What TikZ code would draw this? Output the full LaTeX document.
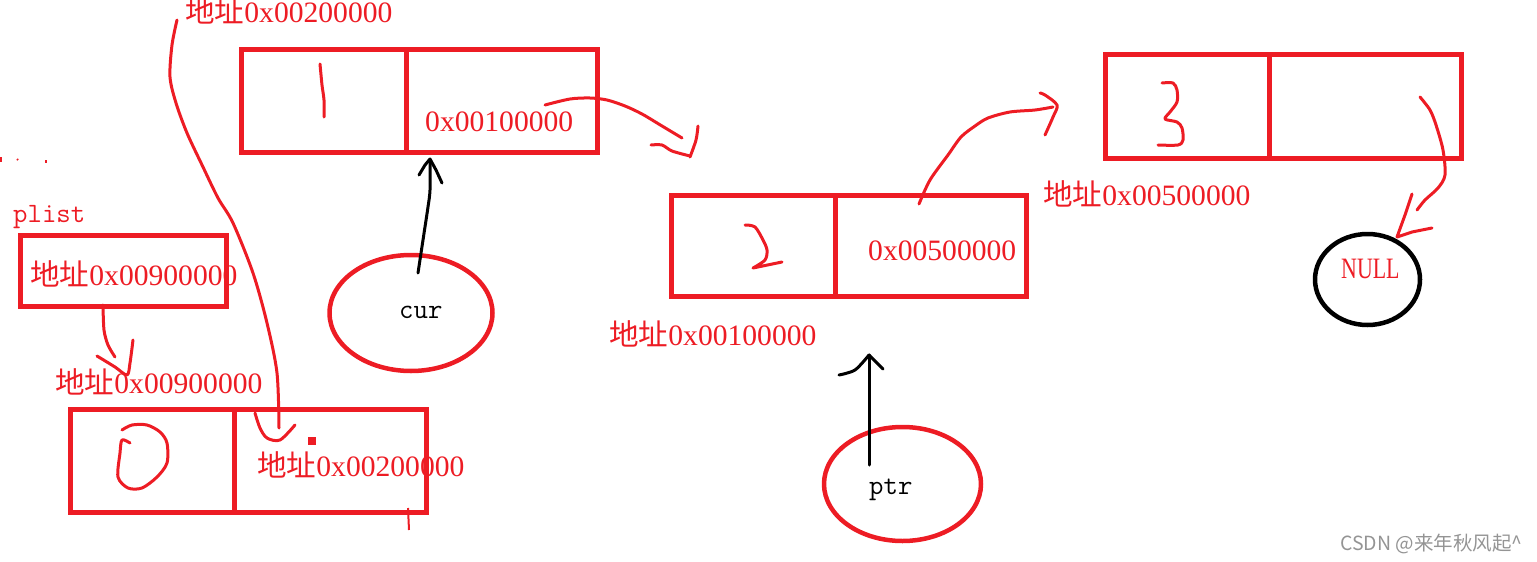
\documentclass[tikz,border=0pt]{standalone}
\usepackage{fontspec}
\setmainfont{Liberation Serif}
\newfontfamily\cjk{Noto Sans CJK SC}
\newcommand\addrzh{{\cjk 地址}}
\definecolor{pred}{HTML}{ED1C24}
\begin{document}
\begin{tikzpicture}[x=1pt,y=-1pt,
  boxline/.style={draw=pred,line width=5pt},
  hand/.style={draw=pred,line width=3pt,line cap=round,line join=round},
  handk/.style={draw=black,line width=3pt,line cap=round,line join=round},
  rtxt/.style={text=pred,inner sep=0pt,anchor=base west,font=\fontsize{29.6}{31}\selectfont},
  mtxt/.style={inner sep=0pt,anchor=base west,font=\ttfamily\fontsize{28}{30}\selectfont},
  ring/.style={line width=4.5pt}]
\useasboundingbox (0,0) rectangle (1537,562);
% boxes
\draw[boxline] (241.5,49.5) rectangle (597.5,152.5);
\draw[boxline] (406,49.5) -- (406,152.5);
\draw[boxline] (671.5,195.5) rectangle (1026,296.5);
\draw[boxline] (835,195.5) -- (835,296.5);
\draw[boxline] (1105.5,54.5) rectangle (1461.5,158.5);
\draw[boxline] (1269,54.5) -- (1269,158.5);
\draw[boxline] (20.5,235.5) rectangle (226.5,306.5);
\draw[boxline] (70.5,409.5) rectangle (426.5,512.5);
\draw[boxline] (234,409.5) -- (234,512.5);
% ellipses
\draw[pred,ring] (411,313) ellipse [x radius=81.5pt, y radius=58pt];
\draw[pred,ring] (902.5,484) ellipse [x radius=78.5pt, y radius=57pt];
\draw[black,ring] (1367.5,279.5) ellipse [x radius=52.5pt, y radius=45.5pt];
% texts
\node[rtxt] (l200top) at (185,23) {\addrzh 0x00200000};
\node[rtxt] (v100) at (425,131) {0x00100000};
\node[rtxt] (v500) at (868,260) {0x00500000};
\node[rtxt] (l100) at (609,345) {\addrzh 0x00100000};
\node[rtxt] (l500) at (1043,205) {\addrzh 0x00500000};
\node[rtxt] (v900) at (30,285) {\addrzh 0x00900000};
\node[rtxt] (l900) at (55,393) {\addrzh 0x00900000};
\node[rtxt] (v200) at (257,476) {\addrzh 0x00200000};
\node[rtxt] (nulltxt) at (1341,278) {\scalebox{0.74}[1]{NULL}};
\node[mtxt,text=pred] (plist) at (13,222) {plist};
\node[mtxt] (cur) at (399,318) {cur};
\node[mtxt] (ptr) at (869,494) {ptr};
\node[inner sep=0pt,anchor=base west,text=black!42,font=\cjk\fontsize{19.5}{21}\selectfont] (wm) at (1340,550) {CSDN @来年秋风起\textasciicircum};
% digits drawn by hand
\draw[hand] plot[smooth] coordinates {(320,64) (322,85) (324,100) (324,117)};
\draw[hand] plot[smooth] coordinates {(745,225) (755,227) (763,240) (767,250) (765,260) (753,268)} -- (782,262);
\draw[hand] plot[smooth] coordinates {(1162,83) (1173,83) (1177,90) (1177,102) (1170,112) (1165,119) (1177,122) (1182,128) (1183,140) (1178,145) (1158,145)};
\draw[hand] plot[smooth] coordinates {(130,443) (122,440) (120,453) (118,477) (128,488) (142,488) (157,477) (167,463) (167,443) (160,432) (147,425) (132,425) (122,430)};
% long curve from top label to box 0
\draw[hand] plot[smooth] coordinates {(177,20) (172,45) (170,77) (176,103) (187,133) (203,167) (218,198) (233,223) (253,273) (267,323) (277,373) (279,428)};
\draw[hand] plot[smooth] coordinates {(255,413) (260,428) (267,438) (280,440) (295,425)};
\fill[pred] (308,437) rectangle (316,445);
% box1 -> box2
\draw[hand] plot[smooth] coordinates {(545,105) (570,99) (590,98) (607,100) (625,106) (642,114) (662,126) (682,138)};
\draw[hand] plot[smooth] coordinates {(651,145) (662,145) (672,151) (690,156)};
\draw[hand] plot[smooth] coordinates {(698,126) (696,140) (690,157)};
% box2 -> box3
\draw[hand] plot[smooth] coordinates {(919,204) (930,180) (948,155) (961,137) (975,126) (988,118) (1010,112) (1035,110) (1053,107)};
\draw[hand] plot[smooth] coordinates {(1040,93) (1045,95) (1057,105) (1053,117) (1045,135)};
% box3 -> NULL
\draw[hand] plot[smooth] coordinates {(1420,97) (1430,110) (1436,125) (1443,150) (1445,175) (1438,188) (1425,200) (1417,210)};
\draw[hand] (1412,194) -- (1405,215) -- (1397,237) -- (1412,232) -- (1432,228);
% plist -> box0
\draw[hand] plot[smooth] coordinates {(103,305) (104,330) (108,345) (115,357)};
\draw[hand] plot[smooth] coordinates {(97,356) (115,367) (127,375) (130,363) (133,340)};
% cur arrow
\draw[handk] plot[smooth] coordinates {(418,273) (423,240) (428,207) (430,190) (430,160)};
\draw[handk] (419,175) -- (425,165) -- (430,159) -- (436,170) -- (442,183);
% ptr arrow
\draw[handk] (869,465) -- (869,355);
\draw[handk] plot[smooth] coordinates {(839,375) (855,370) (869,355)};
\draw[handk] (869,355) -- (883,369);
% small marks
\draw[pred,line width=2pt] (408,508) -- (409,530);
\draw[pred,line width=1.5pt] (1,157) -- (1,162);
\draw[pred,line width=2pt] (17,159) -- (18,160);
\draw[pred,line width=1.5pt] (46,160) -- (46,163);
\end{tikzpicture}
\end{document}
